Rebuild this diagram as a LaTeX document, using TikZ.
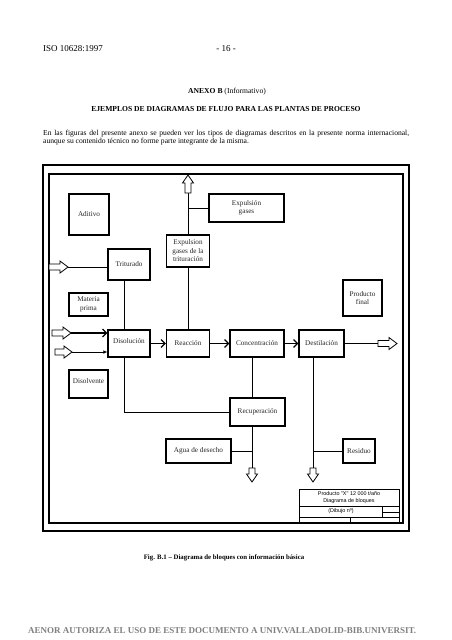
\documentclass[tikz,border=0pt]{standalone}
\usepackage{fontspec}
\setmainfont{Liberation Serif}
\newfontfamily\tbsans{Liberation Sans}
\usetikzlibrary{arrows.meta,calc}
\newcommand{\blockarrow}[4]{%
  \draw[hollowarrow, shift={(#1)}, rotate=#2] (0,0) -- (-8,-#4) -- (-8,-3) -- (-#3,-3) -- (-#3,3) -- (-8,3) -- (-8,#4) -- cycle;}
\begin{document}
\begin{tikzpicture}[x=1pt,y=-1pt,
  box/.style={draw, line width=1.1pt, inner sep=0pt, align=center,
    font=\fontsize{7.2}{8.5}\selectfont, text=black!85},
  conn/.style={line width=0.9pt},
  flow/.style={line width=1.4pt, -{Straight Barb[length=4pt,width=8pt,line width=1.3pt]}},
  feed/.style={line width=0.7pt, -{Latex[length=4pt,width=3.5pt]}},
  hollowarrow/.style={draw, line width=0.8pt, fill=white, line join=miter},
  frame/.style={draw, line width=1.2pt},
  page/.style={inner sep=0pt, text=black},
  tb/.style={inner sep=0pt, font=\tbsans\fontsize{5.4}{6.2}\selectfont, align=center},
  tbline/.style={line width=0.6pt}
]
\fill[white] (0,0) rectangle (452,640);
\useasboundingbox (0,0) rectangle (452,640);

% ---------- page texts ----------
\node[page, anchor=base west] (hdr) at (43,51) {\fontsize{9}{10}\selectfont ISO 10628:1997};
\node[page, anchor=base] (pagenum) at (226,51) {\fontsize{9}{10}\selectfont - 16 -};
\node[page, anchor=base] (anexo) at (227,93.6) {\fontsize{7.6}{8}\selectfont\textbf{ANEXO B} (Informativo)};
\node[page, anchor=base] (titulo) at (226,111.6) {\fontsize{7.6}{8}\selectfont\bfseries EJEMPLOS DE DIAGRAMAS DE FLUJO PARA LAS PLANTAS DE PROCESO};
\node[page, anchor=north west, text width=366pt, align=justify, font=\fontsize{7.6}{8}\selectfont] (para) at (43,129.5)
  {En las figuras del presente anexo se pueden ver los tipos de diagramas descritos en la presente norma internacional,\linebreak aunque su contenido técnico no forme parte integrante de la misma.};
\node[page, anchor=base] (caption) at (224,559.5) {\fontsize{6.8}{8}\selectfont\bfseries Fig. B.1 -- Diagrama de bloques con información básica};
\node[page, anchor=base west, text=black!50] (footer) at (28,633) {\fontsize{9}{10}\selectfont\bfseries AENOR AUTORIZA EL USO DE ESTE DOCUMENTO A UNIV.VALLADOLID-BIB.UNIVERSIT.};

% ---------- frames ----------
\draw[frame] (43,165) rectangle (409,531);
\draw[frame] (49,174) rectangle (403,523);

% ---------- boxes ----------
\node[box, minimum width=40pt, minimum height=41pt] (aditivo) at (89,214.5) {Aditivo};
\node[box, minimum width=42pt, minimum height=31pt] (triturado) at (129,264.5) {Triturado};
\node[box, minimum width=39pt, minimum height=23pt] (materia) at (88.5,304.5) {Materia\\prima};
\node[box, minimum width=42pt, minimum height=27pt, text depth=5pt] (disolucion) at (129,343.5) {Disolución};
\node[box, minimum width=39pt, minimum height=28pt, text depth=6pt] (disolvente) at (88.5,384) {Disolvente};
\node[box, minimum width=43pt, minimum height=32pt] (exptrit) at (188,251) {Expulsion\\gases de la\\trituración};
\node[box, minimum width=75pt, minimum height=28pt] (expgases) at (246.5,208) {Expulsión\\gases};
\node[box, minimum width=43pt, minimum height=27pt] (reaccion) at (188,343.5) {Reacción};
\node[box, minimum width=54pt, minimum height=27pt] (concentracion) at (257,343.5) {Concentración};
\node[box, minimum width=45pt, minimum height=27pt] (destilacion) at (321.5,343.5) {Destilación};
\node[box, minimum width=39pt, minimum height=36pt] (producto) at (362.5,298) {Producto\\final};
\node[box, minimum width=55pt, minimum height=28pt] (recuperacion) at (257.5,412) {Recuperación};
\node[box, minimum width=65pt, minimum height=24pt] (agua) at (198.5,451) {Agua de desecho};
\node[box, minimum width=32pt, minimum height=24pt] (residuo) at (359,451) {Residuo};

% ---------- coordinates for free ends ----------
\coordinate (inA) at (68,267);
\coordinate (inB) at (71,333);
\coordinate (inC) at (72,352);
\coordinate (upTip) at (188,175);
\coordinate (upBase) at (188,193);
\coordinate (outTail) at (378,343.5);
\coordinate (outTip) at (397,343.5);
\coordinate (cx) at ($(concentracion.south)+(-5,0)$);
\coordinate (dx) at ($(destilacion.south)+(-8.5,0)$);
\coordinate (dnATip) at (cx |- 0,482);
\coordinate (dnABase) at (cx |- 0,468);
\coordinate (dnBTip) at (dx |- 0,482);
\coordinate (dnBBase) at (dx |- 0,468);

% ---------- connectors ----------
\draw[conn] ($(aditivo.south)+(4,0)$) -- ($(aditivo.south)+(4,0)$ |- inA);
\draw[conn] (inA) -- (triturado.west |- inA);
\draw[conn] ($(triturado.south)+(-5,0)$) -- ($(disolucion.north)+(-5,0)$);
\draw[conn] (exptrit.north) -- (upBase);
\draw[conn] (expgases.west) -- (expgases.west -| upBase);
\draw[conn] (exptrit.south) -- (reaccion.north);
\draw[conn] ($(materia.south)+(4,0)$) -- ($(materia.south)+(4,0)$ |- inB);
\draw[flow] (inB) -- (disolucion.west |- inB);
\draw[feed] (inC) -- (disolucion.west |- inC);
\draw[conn] ($(disolvente.north)+(4,0)$) -- ($(disolvente.north)+(4,0)$ |- inC);
\draw[flow] (disolucion.east) -- (reaccion.west);
\draw[flow] (reaccion.east) -- (concentracion.west);
\draw[flow] (concentracion.east) -- (destilacion.west);
\draw[conn] (destilacion.east) -- (outTail);
\draw[conn] ($(producto.south)+(-2,0)$) -- ($(producto.south)+(-2,0)$ |- outTail);
\draw[conn] ($(disolucion.south)+(-5,0)$) |- (recuperacion.west);
\draw[conn] (cx) -- (cx |- recuperacion.north);
\draw[conn] (cx |- recuperacion.south) -- (dnABase);
\draw[conn] (agua.east) -- (agua.east -| cx);
\draw[conn] (dx) -- (dnBBase);
\draw[conn] (residuo.west) -- (residuo.west -| dx);

% ---------- hollow block arrows ----------
\blockarrow{inA}{0}{19}{6}
\blockarrow{inB}{0}{19}{6}
\blockarrow{inC}{0}{17}{6}
\blockarrow{upTip}{90}{18}{5.5}
\blockarrow{outTip}{0}{19}{6}
\blockarrow{dnATip}{-90}{14}{5.5}
\blockarrow{dnBTip}{-90}{14}{5.5}

% ---------- title block ----------
\draw[tbline] (299,489) rectangle (399,523);
\draw[tbline] (299,506) -- (399,506);
\draw[tbline] (299,517) -- (399,517);
\draw[tbline] (382,506) -- (382,517);
\draw[tbline] (382,512) -- (399,512);
\draw[tbline] (350,517) -- (350,523);
\node[tb] (tbA) at (349,497.5) {Producto "X" 12 000 t/año\\Diagrama de bloques};
\node[tb] (tbB) at (341,511.5) {(Dibujo nº)};
\end{tikzpicture}
\end{document}
